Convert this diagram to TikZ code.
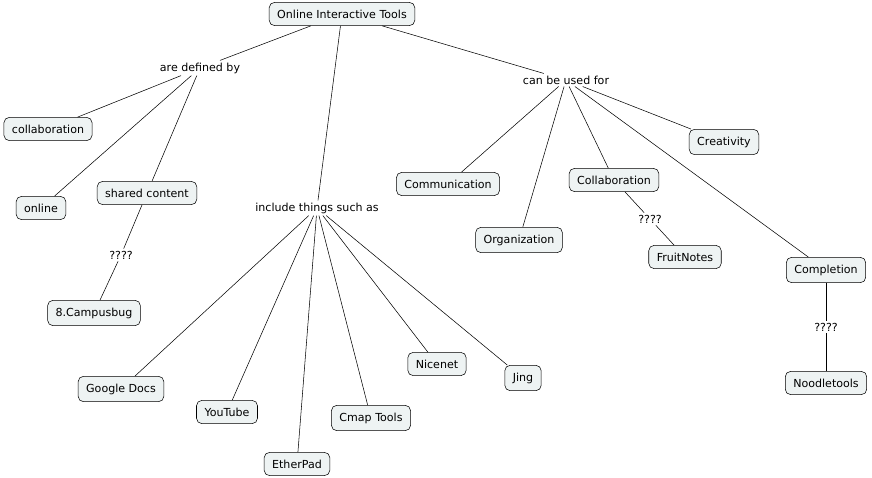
\documentclass[tikz,border=0pt]{standalone}
\usepackage{fontspec}
\setmainfont{DejaVu Sans}
\usetikzlibrary{positioning}
\definecolor{cfill}{HTML}{EEF3F3}
\tikzset{
  concept/.style={rectangle,rounded corners=4pt,draw=black,fill=cfill,
                  inner xsep=6pt,inner ysep=5.5pt,font=\fontsize{8.3}{10}\selectfont},
  link/.style={inner sep=1.5pt,font=\fontsize{8.3}{10}\selectfont},
  line/.style={draw,thin}
}
\begin{document}
\begin{tikzpicture}[x=0.75pt,y=-0.75pt]
\useasboundingbox (0,0) rectangle (872,478);
% concepts
\node[concept] (root) at (342,14) {Online Interactive Tools};
\node[concept] (collab) at (48,129) {collaboration};
\node[concept] (online) at (41,208) {online};
\node[concept] (shared) at (147,193) {shared content};
\node[concept] (campus) at (94,313) {8.Campusbug};
\node[concept] (gdocs) at (121,389) {Google Docs};
\node[concept] (youtube) at (227,412) {YouTube};
\node[concept] (ether) at (297,464) {EtherPad};
\node[concept] (cmap) at (371,418) {Cmap Tools};
\node[concept] (nicenet) at (437,364) {Nicenet};
\node[concept] (jing) at (523,378) {Jing};
\node[concept] (comm) at (448,184) {Communication};
\node[concept] (org) at (519,240) {Organization};
\node[concept] (Collab) at (614,180) {Collaboration};
\node[concept] (fruit) at (685,257) {FruitNotes};
\node[concept] (creat) at (724,142) {Creativity};
\node[concept] (compl) at (826,270) {Completion};
\node[concept] (noodle) at (826,383) {Noodletools};
% linking phrases
\node[link] (defined) at (200,68) {are defined by};
\node[link] (used) at (566,80) {can be used for};
\node[link] (include) at (317,208) {include things such as};
\node[link] (q1) at (121,255) {????};
\node[link] (q2) at (650,219) {????};
\node[link] (q3) at (826,327) {????};
% connections
\draw[line] (root) -- (defined);
\draw[line] (root) -- (include);
\draw[line] (root) -- (used);
\foreach \n in {collab,online,shared}
  \draw[line] (defined) -- (\n);
\draw[line] (shared) -- (q1) -- (campus);
\foreach \n in {gdocs,youtube,ether,cmap,nicenet,jing}
  \draw[line] (include) -- (\n);
\foreach \n in {comm,org,Collab,creat,compl}
  \draw[line] (used) -- (\n);
\draw[line] (Collab) -- (q2) -- (fruit);
\draw[line] (compl) -- (q3) -- (noodle);
\end{tikzpicture}
\end{document}
